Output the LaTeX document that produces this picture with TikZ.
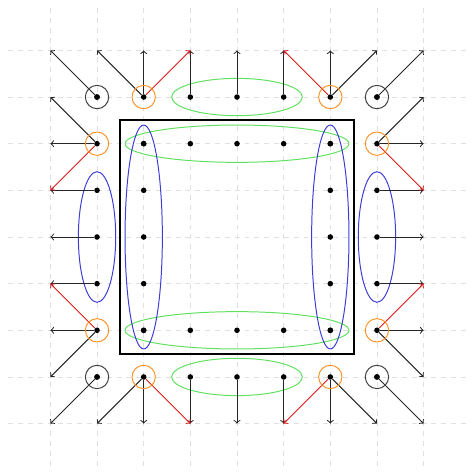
\documentclass[tikz,border=0pt]{standalone}
\definecolor{lightgreen}{RGB}{95,225,95}
\definecolor{midblue}{RGB}{60,60,215}
\begin{document}
\begin{tikzpicture}[
        dot/.style={circle,fill=black,inner sep=0pt,minimum size=3.4pt},
        flow/.style={->,semithick,black!85},
        redflow/.style={->,semithick,red!85!black!90},
        ring/.style={semithick,black!75},
        halo/.style={semithick,orange!85}]
                 \useasboundingbox (-5.08,-5.08) rectangle (5.08,5.08);
                 \draw[black!12,dashed] (-4.9,-4.9) grid (4.9,4.9);
                 % points on the two rings
                 \foreach \i in {-3,...,3} {
                     \node[dot] (d\i3) at (\i,3) {};
                     \node[dot] (d\i-3) at (\i,-3) {};
                     \node[dot] (d3\i) at (3,\i) {};
                     \node[dot] (d-3\i) at (-3,\i) {};
                 }
                 \foreach \i in {-2,...,2} {
                     \node[dot] (d\i2) at (\i,2) {};
                     \node[dot] (d\i-2) at (\i,-2) {};
                     \node[dot] (d2\i) at (2,\i) {};
                     \node[dot] (d-2\i) at (-2,\i) {};
                 }
                 % arrow ends
                 \foreach \i in {-4,...,4} {
                     \coordinate (t\i4) at (\i,4);
                     \coordinate (t\i-4) at (\i,-4);
                     \coordinate (t4\i) at (4,\i);
                     \coordinate (t-4\i) at (-4,\i);
                 }
                 \draw[very thick] (-2.5,-2.5) rectangle (2.5,2.5);
                 \draw[semithick,lightgreen] (d03) ellipse [x radius=1.4, y radius=0.4];
                 \draw[semithick,lightgreen] (d02) ellipse [x radius=2.4, y radius=0.4];
                 \draw[semithick,lightgreen] (d0-2) ellipse [x radius=2.4, y radius=0.4];
                 \draw[semithick,lightgreen] (d0-3) ellipse [x radius=1.4, y radius=0.4];
                 \draw[semithick,midblue] (d-30) ellipse [x radius=0.4, y radius=1.4];
                 \draw[semithick,midblue] (d-20) ellipse [x radius=0.4, y radius=2.4];
                 \draw[semithick,midblue] (d20) ellipse [x radius=0.4, y radius=2.4];
                 \draw[semithick,midblue] (d30) ellipse [x radius=0.4, y radius=1.4];
                 % straight out
                 \foreach \i in {-1,0,1} {
                     \draw[flow] (d\i3) -- (t\i4);
                     \draw[flow] (d\i-3) -- (t\i-4);
                     \draw[flow] (d3\i) -- (t4\i);
                     \draw[flow] (d-3\i) -- (t-4\i);
                 }
                 \foreach \p/\q/\r/\s in {-3/3/-4/4, 3/3/4/4, 3/-3/4/-4, -3/-3/-4/-4,
                         -2/3/-3/4, -2/3/-2/4, 2/3/2/4, 2/3/3/4,
                         3/2/4/3, 3/2/4/2, 3/-2/4/-2, 3/-2/4/-3,
                         2/-3/2/-4, 2/-3/3/-4, -2/-3/-2/-4, -2/-3/-3/-4,
                         -3/-2/-4/-2, -3/-2/-4/-3, -3/2/-4/2, -3/2/-4/3}
                     \draw[flow] (d\p\q) -- (t\r\s);
                 \foreach \p/\q/\r/\s in {-2/3/-1/4, 2/3/1/4, 3/2/4/1, 3/-2/4/-1,
                         2/-3/1/-4, -2/-3/-1/-4, -3/-2/-4/-1, -3/2/-4/1}
                     \draw[redflow] (d\p\q) -- (t\r\s);
                 % circles
                 \foreach \p/\q in {-3/3, 3/3, 3/-3, -3/-3}
                     \draw[ring] (d\p\q) circle (0.25);
                 \foreach \p/\q in {-2/3, 2/3, 3/2, 3/-2, 2/-3, -2/-3, -3/-2, -3/2}
                     \draw[halo] (d\p\q) circle (0.25);
            \end{tikzpicture}
\end{document}
